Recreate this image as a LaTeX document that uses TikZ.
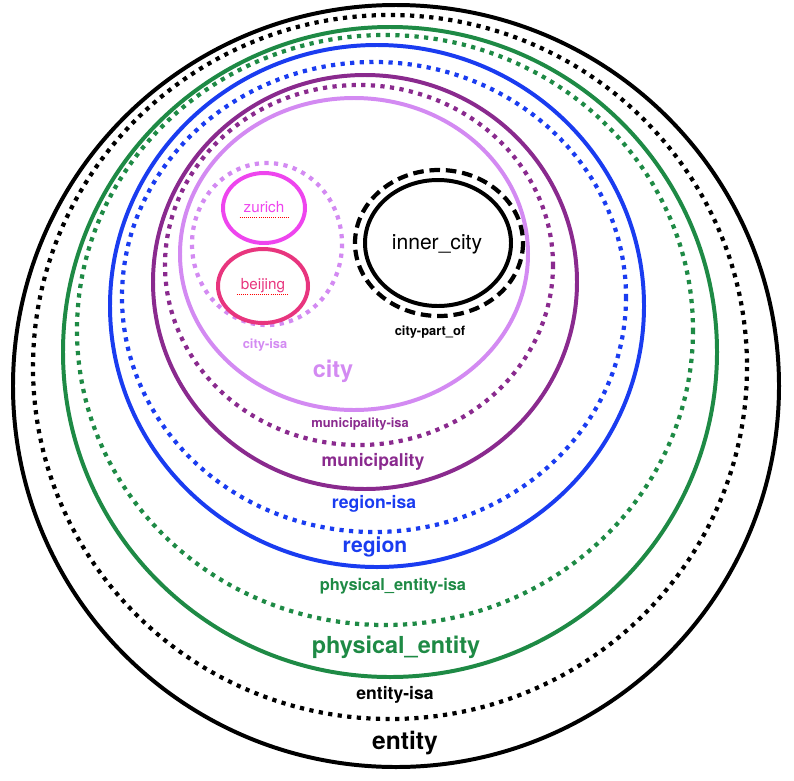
\documentclass[tikz,border=0pt]{standalone}
\usepackage{fontspec}
\setmainfont{TeX Gyre Heros}
\usepackage{xcolor}
\definecolor{entgreen}{HTML}{1E8A45}
\definecolor{regblue}{HTML}{1A3CF0}
\definecolor{munpurple}{HTML}{8A2A8E}
\definecolor{citylilac}{HTML}{D38AF2}
\definecolor{zurmag}{HTML}{EE45EE}
\definecolor{beipink}{HTML}{E8357E}
\newcommand{\fs}[1]{\fontsize{#1}{#1}\selectfont}
\tikzset{
  solidring/.style={line width=3.4pt},
  dotring/.style={line width=3.6pt, dash pattern=on 3.6pt off 4.6pt},
  dashring/.style={line width=3.6pt, dash pattern=on 9pt off 5pt},
  lbl/.style={font=\bfseries}
}
\begin{document}
\begin{tikzpicture}[x=0.03cm,y=-0.03cm]
  \useasboundingbox (0,0) rectangle (794,780);
  % outer rings
  \draw[solidring] (396,386) ellipse[x radius=383, y radius=381];
  \draw[dotring] (390,367) ellipse[x radius=357, y radius=352];
  \draw[solidring, entgreen] (390,352) ellipse[x radius=327, y radius=325];
  \draw[dotring, entgreen] (385,330) ellipse[x radius=308, y radius=295];
  \draw[solidring, regblue] (377,306) ellipse[x radius=267, y radius=261];
  \draw[dotring, regblue] (374,297) ellipse[x radius=252, y radius=235];
  \draw[solidring, munpurple] (365,282) ellipse[x radius=212, y radius=207];
  \draw[dotring, munpurple] (359,265) ellipse[x radius=194, y radius=180];
  \draw[solidring, citylilac] (354,254) ellipse[x radius=174, y radius=156];
  % city members
  \draw[dotring, citylilac] (267,244) ellipse[x radius=75, y radius=81];
  \draw[solidring, zurmag] (264,208) ellipse[x radius=41, y radius=35];
  \draw[solidring, beipink] (263,286) ellipse[x radius=45, y radius=37];
  \node[font=\fs{13}, text=zurmag] (zurich) at (264,207) {zurich};
  \node[font=\fs{13}, text=beipink] (beijing) at (263,286) {beijing};
  \draw[red, densely dotted, thick] ([yshift=-4]zurich.base west) -- ([yshift=-4]zurich.base east);
  \draw[red, densely dotted, thick] ([yshift=-4]beijing.base west) -- ([yshift=-4]beijing.base east);
  % inner city
  \draw[dashring] (439,243) ellipse[x radius=84, y radius=73];
  \draw[solidring] (438,243) ellipse[x radius=73, y radius=63];
  \node[font=\fs{18}] (inner) at (437,244) {inner\_city};
  % labels
  \node[lbl, font=\fs{11}\bfseries, text=citylilac] (cityisa) at (265,345) {city-isa};
  \node[lbl, font=\fs{20}\bfseries, text=citylilac] (city) at (333,371) {city};
  \node[lbl, font=\fs{11}\bfseries] (citypart) at (430,332) {city-part\_of};
  \node[lbl, font=\fs{11}\bfseries, text=munpurple] (munisa) at (360,424) {municipality-isa};
  \node[lbl, font=\fs{15}\bfseries, text=munpurple] (mun) at (373,462) {municipality};
  \node[lbl, font=\fs{15}\bfseries, text=regblue] (regisa) at (374,504) {region-isa};
  \node[lbl, font=\fs{18}\bfseries, text=regblue] (reg) at (375,547) {region};
  \node[lbl, font=\fs{14}\bfseries, text=entgreen] (physisa) at (393,586) {physical\_entity-isa};
  \node[lbl, font=\fs{20}\bfseries, text=entgreen] (phys) at (396,647) {physical\_entity};
  \node[lbl, font=\fs{15}\bfseries] (entisa) at (395,695) {entity-isa};
  \node[lbl, font=\fs{21}\bfseries] (ent) at (405,743) {entity};
\end{tikzpicture}
\end{document}
